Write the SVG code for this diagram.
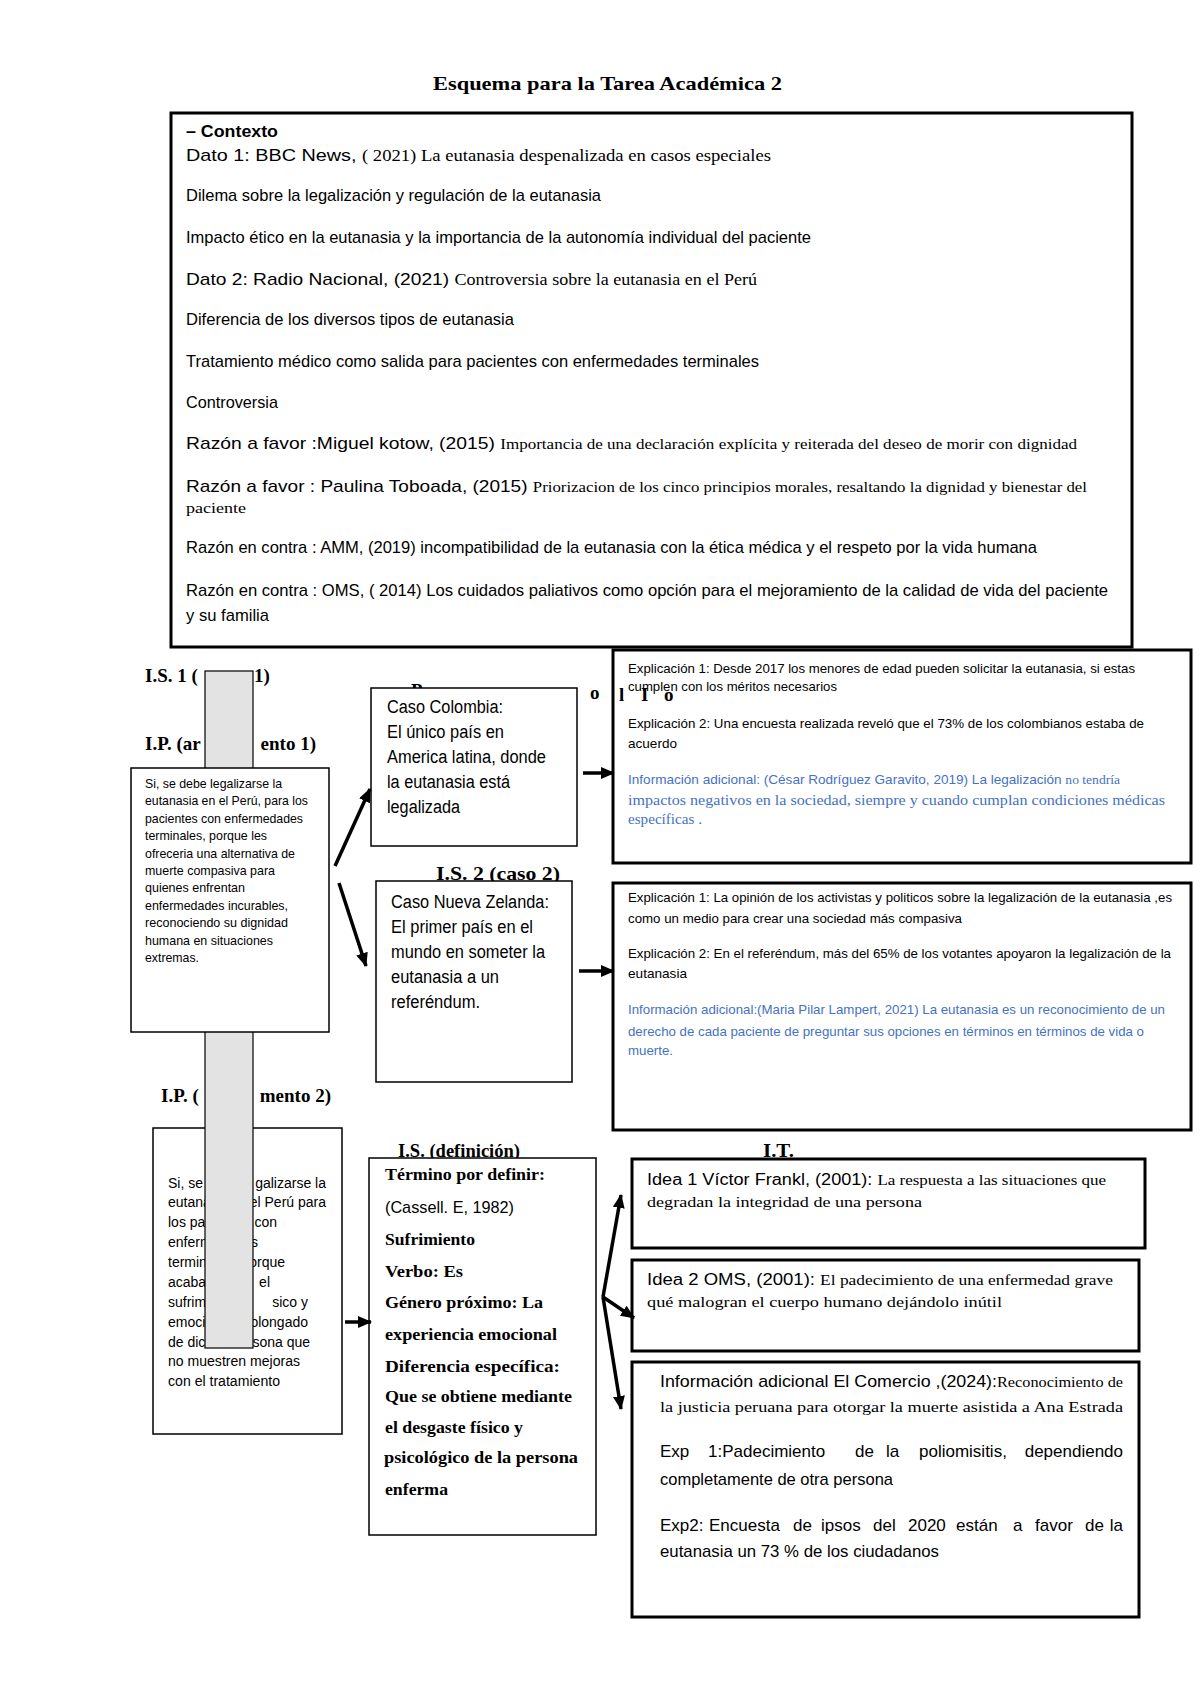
<svg xmlns="http://www.w3.org/2000/svg" width="1200" height="1696" viewBox="0 0 1200 1696">
<style>
.s{font-family:'Liberation Sans Narrow','Liberation Sans',Arial,sans-serif}
.r{font-family:'Liberation Serif','Times New Roman',serif}
.b{font-weight:bold}
.blue{fill:#4472c4}
.box{fill:#fff;stroke:#000;stroke-width:1.5}
.bx{fill:#fff;stroke:#000;stroke-width:3}
.con line{stroke:#000;stroke-width:3.5;marker-end:url(#ah)}
</style>
<defs>
<marker id="ah" markerUnits="userSpaceOnUse" markerWidth="14" markerHeight="12" refX="13" refY="6" orient="auto">
<path d="M0,0 L14,6 L0,12 Z" fill="#000"/>
</marker>
</defs>
<rect width="1200" height="1696" fill="#fff"/>

<text x="433" y="90" class="r b" font-size="19" textLength="349" lengthAdjust="spacingAndGlyphs">Esquema para la Tarea Académica 2</text>

<g id="contexto">
<rect x="171" y="113" width="961" height="534" class="bx"/>
<text x="186" y="137" class="s b" font-size="17" textLength="92" lengthAdjust="spacingAndGlyphs">– Contexto</text>
<text x="186" y="161" font-size="17" textLength="585" lengthAdjust="spacingAndGlyphs"><tspan class="s">Dato 1: BBC News, </tspan><tspan class="r" font-size="16">( 2021) La eutanasia despenalizada en casos especiales</tspan></text>
<text x="186" y="201" class="s" font-size="17" textLength="415" lengthAdjust="spacingAndGlyphs">Dilema sobre la legalización y regulación de la eutanasia</text>
<text x="186" y="243" class="s" font-size="17" textLength="625" lengthAdjust="spacingAndGlyphs">Impacto ético en la eutanasia y la importancia de la autonomía individual del paciente</text>
<text x="186" y="285" font-size="17" textLength="571" lengthAdjust="spacingAndGlyphs"><tspan class="s">Dato 2: Radio Nacional, (2021) </tspan><tspan class="r" font-size="16">Controversia sobre la eutanasia en el Perú</tspan></text>
<text x="186" y="325" class="s" font-size="17" textLength="328" lengthAdjust="spacingAndGlyphs">Diferencia de los diversos tipos de eutanasia</text>
<text x="186" y="367" class="s" font-size="17" textLength="573" lengthAdjust="spacingAndGlyphs">Tratamiento médico como salida para pacientes con enfermedades terminales</text>
<text x="186" y="408" class="s" font-size="17" textLength="92" lengthAdjust="spacingAndGlyphs">Controversia</text>
<text x="186" y="449" font-size="17" textLength="891" lengthAdjust="spacingAndGlyphs"><tspan class="s">Razón a favor :Miguel kotow, (2015) </tspan><tspan class="r" font-size="15">Importancia de una declaración explícita y reiterada del deseo de morir con dignidad</tspan></text>
<text x="186" y="492" font-size="17" textLength="901" lengthAdjust="spacingAndGlyphs"><tspan class="s">Razón a favor : Paulina Toboada, (2015) </tspan><tspan class="r" font-size="15">Priorizacion de los cinco principios morales, resaltando la dignidad y bienestar del</tspan></text>
<text x="186" y="513" class="r" font-size="15" textLength="60" lengthAdjust="spacingAndGlyphs">paciente</text>
<text x="186" y="553" class="s" font-size="17" textLength="851" lengthAdjust="spacingAndGlyphs">Razón en contra : AMM, (2019) incompatibilidad de la eutanasia con la ética médica y el respeto por la vida humana</text>
<text x="186" y="596" class="s" font-size="17" textLength="922" lengthAdjust="spacingAndGlyphs">Razón en contra : OMS, ( 2014)  Los cuidados paliativos como opción para el mejoramiento de la calidad de vida del paciente</text>
<text x="186" y="621" class="s" font-size="17" textLength="83" lengthAdjust="spacingAndGlyphs">y su familia</text>
</g>

<g id="encabezados">
<text x="145" y="682" class="r b" font-size="19">I.S. 1 (</text>
<text x="254" y="682" class="r b" font-size="19">1)</text>
<text x="145" y="750" class="r b" font-size="19">I.P. (ar</text>
<text x="316" y="750" class="r b" font-size="19" text-anchor="end">ento 1)</text>
<text x="161" y="1102" class="r b" font-size="19">I.P. (</text>
<text x="331" y="1102" class="r b" font-size="19" text-anchor="end">mento 2)</text>
</g>

<g id="argumento2">
<rect x="153" y="1128" width="189" height="306" class="box"/>
<g class="s" font-size="14">
<text x="168" y="1188">Si, se</text><text x="326" y="1188" text-anchor="end">galizarse la</text>
<text x="168" y="1207">eutana</text><text x="326" y="1207" text-anchor="end">el Perú para</text>
<text x="168" y="1227">los pa</text><text x="277" y="1227" text-anchor="end">con</text>
<text x="168" y="1247">enferm</text><text x="258" y="1247" text-anchor="end">s</text>
<text x="168" y="1267">termin</text><text x="285" y="1267" text-anchor="end">orque</text>
<text x="168" y="1287">acaba</text><text x="270" y="1287" text-anchor="end">el</text>
<text x="168" y="1307">sufrim</text><text x="308" y="1307" text-anchor="end">sico y</text>
<text x="168" y="1327">emoci</text><text x="308" y="1327" text-anchor="end">olongado</text>
<text x="168" y="1347">de dic</text><text x="310" y="1347" text-anchor="end">sona que</text>
<text x="168" y="1366" textLength="132" lengthAdjust="spacingAndGlyphs">no muestren mejoras</text>
<text x="168" y="1386" textLength="112" lengthAdjust="spacingAndGlyphs">con el tratamiento</text>
</g>
</g>

<rect id="barra" x="205" y="671" width="48" height="677" fill="#e3e3e3" stroke="#000" stroke-width="1.2"/>

<g id="argumento1">
<rect x="131" y="768" width="198" height="264" class="box"/>
<g class="s" font-size="13">
<text x="145" y="788" textLength="137" lengthAdjust="spacingAndGlyphs">Si, se debe legalizarse la</text>
<text x="145" y="805" textLength="163" lengthAdjust="spacingAndGlyphs">eutanasia en el Perú, para los</text>
<text x="145" y="823" textLength="158" lengthAdjust="spacingAndGlyphs">pacientes con enfermedades</text>
<text x="145" y="840" textLength="122" lengthAdjust="spacingAndGlyphs">terminales, porque les</text>
<text x="145" y="858" textLength="150" lengthAdjust="spacingAndGlyphs">ofreceria una alternativa de</text>
<text x="145" y="875" textLength="130" lengthAdjust="spacingAndGlyphs">muerte compasiva para</text>
<text x="145" y="892" textLength="100" lengthAdjust="spacingAndGlyphs">quienes enfrentan</text>
<text x="145" y="910" textLength="143" lengthAdjust="spacingAndGlyphs">enfermedades incurables,</text>
<text x="145" y="927" textLength="143" lengthAdjust="spacingAndGlyphs">reconociendo su dignidad</text>
<text x="145" y="945" textLength="128" lengthAdjust="spacingAndGlyphs">humana en situaciones</text>
<text x="145" y="962" textLength="54" lengthAdjust="spacingAndGlyphs">extremas.</text>
</g>
</g>

<g id="caso1">
<text x="411" y="697" class="r b" font-size="19">P</text>
<text x="590" y="699" class="r b" font-size="19">o</text>
<rect x="371" y="688" width="206" height="158" class="box"/>
<g class="s" font-size="18">
<text x="387" y="713" textLength="116" lengthAdjust="spacingAndGlyphs">Caso Colombia:</text>
<text x="387" y="738" textLength="117" lengthAdjust="spacingAndGlyphs">El único país en</text>
<text x="387" y="763" textLength="159" lengthAdjust="spacingAndGlyphs">America latina, donde</text>
<text x="387" y="788" textLength="123" lengthAdjust="spacingAndGlyphs">la eutanasia está</text>
<text x="387" y="813" textLength="73" lengthAdjust="spacingAndGlyphs">legalizada</text>
</g>
</g>

<g id="caso2">
<text x="436" y="880" class="r b" font-size="19" textLength="124" lengthAdjust="spacingAndGlyphs">I.S. 2 (caso 2)</text>
<rect x="376" y="881" width="196" height="201" class="box"/>
<g class="s" font-size="18">
<text x="391" y="908" textLength="158" lengthAdjust="spacingAndGlyphs">Caso Nueva Zelanda:</text>
<text x="391" y="933" textLength="142" lengthAdjust="spacingAndGlyphs">El primer país en el</text>
<text x="391" y="958" textLength="154" lengthAdjust="spacingAndGlyphs">mundo en someter la</text>
<text x="391" y="983" textLength="108" lengthAdjust="spacingAndGlyphs">eutanasia a un</text>
<text x="391" y="1008" textLength="89" lengthAdjust="spacingAndGlyphs">referéndum.</text>
</g>
</g>

<g id="explicacion1">
<rect x="613" y="650" width="578" height="213" class="bx"/>
<g class="s" font-size="13.5">
<text x="628" y="673" textLength="507" lengthAdjust="spacingAndGlyphs">Explicación 1: Desde 2017 los menores de edad pueden solicitar la eutanasia, si estas</text>
<text x="628" y="691" textLength="209" lengthAdjust="spacingAndGlyphs">cumplen con los méritos necesarios</text>
<text x="628" y="728" textLength="516" lengthAdjust="spacingAndGlyphs">Explicación 2: Una encuesta realizada reveló que el 73% de los colombianos estaba de</text>
<text x="628" y="748" textLength="49" lengthAdjust="spacingAndGlyphs">acuerdo</text>
</g>
<text x="628" y="784" class="blue" font-size="13.5" textLength="492" lengthAdjust="spacingAndGlyphs"><tspan class="s">Información adicional: (César Rodríguez Garavito, 2019) La legalización </tspan><tspan class="r">no tendría</tspan></text>
<text x="628" y="805" class="r blue" font-size="14" textLength="537" lengthAdjust="spacingAndGlyphs">impactos negativos en la sociedad, siempre y cuando cumplan condiciones médicas</text>
<text x="628" y="824" class="r blue" font-size="14" textLength="74" lengthAdjust="spacingAndGlyphs">específicas .</text>
<text x="619" y="701" class="r b" font-size="19">l</text>
<text x="641" y="701" class="r b" font-size="19">I</text>
<text x="664" y="701" class="r b" font-size="19">o</text>
</g>

<g id="explicacion2">
<rect x="613" y="883" width="578" height="247" class="bx"/>
<g class="s" font-size="13.5">
<text x="628" y="902" textLength="544" lengthAdjust="spacingAndGlyphs">Explicación 1: La opinión de los activistas y politicos sobre la legalización de la eutanasia ,es</text>
<text x="628" y="923" textLength="334" lengthAdjust="spacingAndGlyphs">como un medio para crear una sociedad más compasiva</text>
<text x="628" y="958" textLength="543" lengthAdjust="spacingAndGlyphs">Explicación 2: En el referéndum, más del 65% de los votantes apoyaron la legalización de la</text>
<text x="628" y="978" textLength="59" lengthAdjust="spacingAndGlyphs">eutanasia</text>
<text x="628" y="1014" class="blue" textLength="537" lengthAdjust="spacingAndGlyphs">Información adicional:(Maria Pilar Lampert, 2021) La eutanasia es un reconocimiento de un</text>
<text x="628" y="1036" class="blue" textLength="516" lengthAdjust="spacingAndGlyphs">derecho de cada paciente de preguntar sus opciones en términos en términos de vida o</text>
<text x="628" y="1055" class="blue" textLength="45" lengthAdjust="spacingAndGlyphs">muerte.</text>
</g>
</g>

<g id="definicion">
<text x="398" y="1157" class="r b" font-size="18" textLength="122" lengthAdjust="spacingAndGlyphs">I.S. (definición)</text>
<rect x="369" y="1158" width="227" height="377" class="box"/>
<g class="r b" font-size="16.5">
<text x="385" y="1180" textLength="160" lengthAdjust="spacingAndGlyphs">Término por definir:</text>
<text x="385" y="1213" class="s" font-weight="normal" font-size="17" textLength="129" lengthAdjust="spacingAndGlyphs">(Cassell. E, 1982)</text>
<text x="385" y="1245" textLength="90" lengthAdjust="spacingAndGlyphs">Sufrimiento</text>
<text x="385" y="1277" textLength="78" lengthAdjust="spacingAndGlyphs">Verbo: Es</text>
<text x="385" y="1308" textLength="158" lengthAdjust="spacingAndGlyphs">Género próximo: La</text>
<text x="385" y="1340" textLength="172" lengthAdjust="spacingAndGlyphs">experiencia emocional</text>
<text x="385" y="1372" textLength="175" lengthAdjust="spacingAndGlyphs">Diferencia específica:</text>
<text x="385" y="1402" textLength="187" lengthAdjust="spacingAndGlyphs">Que se obtiene mediante</text>
<text x="385" y="1433" textLength="138" lengthAdjust="spacingAndGlyphs">el desgaste físico y</text>
<text x="384" y="1463" textLength="194" lengthAdjust="spacingAndGlyphs">psicológico de la persona</text>
<text x="385" y="1495" textLength="63" lengthAdjust="spacingAndGlyphs">enferma</text>
</g>
</g>

<g id="idea1">
<text x="763" y="1157" class="r b" font-size="18" textLength="31" lengthAdjust="spacingAndGlyphs">I.T.</text>
<rect x="632" y="1159" width="513" height="89" class="bx"/>
<text x="647" y="1185" font-size="16" textLength="459" lengthAdjust="spacingAndGlyphs"><tspan class="s">Idea 1  Víctor Frankl, (2001): </tspan><tspan class="r" font-size="15">La respuesta a las situaciones que</tspan></text>
<text x="647" y="1207" class="r" font-size="15" textLength="275" lengthAdjust="spacingAndGlyphs">degradan la integridad de una persona</text>
</g>

<g id="idea2">
<rect x="632" y="1260" width="507" height="91" class="bx"/>
<text x="647" y="1285" font-size="16" textLength="466" lengthAdjust="spacingAndGlyphs"><tspan class="s">Idea 2  OMS, (2001): </tspan><tspan class="r" font-size="15">El padecimiento de una enfermedad grave</tspan></text>
<text x="647" y="1307" class="r" font-size="15" textLength="355" lengthAdjust="spacingAndGlyphs">qué malogran el cuerpo humano dejándolo inútil</text>
</g>

<g id="info">
<rect x="632" y="1362" width="507" height="255" class="bx"/>
<text x="660" y="1387" font-size="17" textLength="463" lengthAdjust="spacingAndGlyphs"><tspan class="s">Información adicional El Comercio ,(2024):</tspan><tspan class="r" font-size="15.5">Reconocimiento de</tspan></text>
<text x="660" y="1412" class="r" font-size="15.5" textLength="463" lengthAdjust="spacingAndGlyphs">la justicia peruana para otorgar la muerte asistida a Ana Estrada</text>
<g class="s" font-size="17">
<text x="660" y="1457">Exp</text>
<text x="708" y="1457">1:Padecimiento</text>
<text x="855" y="1457">de</text>
<text x="886" y="1457">la</text>
<text x="919" y="1457">poliomisitis,</text>
<text x="1123" y="1457" text-anchor="end">dependiendo</text>
<text x="660" y="1485" textLength="233" lengthAdjust="spacingAndGlyphs">completamente de otra persona</text>
<text x="660" y="1531">Exp2:</text>
<text x="709" y="1531">Encuesta</text>
<text x="793" y="1531">de</text>
<text x="821" y="1531">ipsos</text>
<text x="873" y="1531">del</text>
<text x="908" y="1531">2020</text>
<text x="956" y="1531">están</text>
<text x="1013" y="1531">a</text>
<text x="1035" y="1531">favor</text>
<text x="1085" y="1531">de</text>
<text x="1123" y="1531" text-anchor="end">la</text>
<text x="660" y="1557" textLength="279" lengthAdjust="spacingAndGlyphs">eutanasia  un 73 % de los ciudadanos</text>
</g>
</g>

<g id="conectores" class="con">
<line x1="335" y1="866" x2="370" y2="789"/>
<line x1="339" y1="883" x2="366" y2="966"/>
<line x1="583" y1="773" x2="614" y2="773"/>
<line x1="579" y1="971" x2="614" y2="971"/>
<line x1="345" y1="1322" x2="371" y2="1322"/>
<line x1="603" y1="1297" x2="621" y2="1195"/>
<line x1="603" y1="1297" x2="634" y2="1318"/>
<line x1="603" y1="1297" x2="621" y2="1409"/>
</g>
</svg>
